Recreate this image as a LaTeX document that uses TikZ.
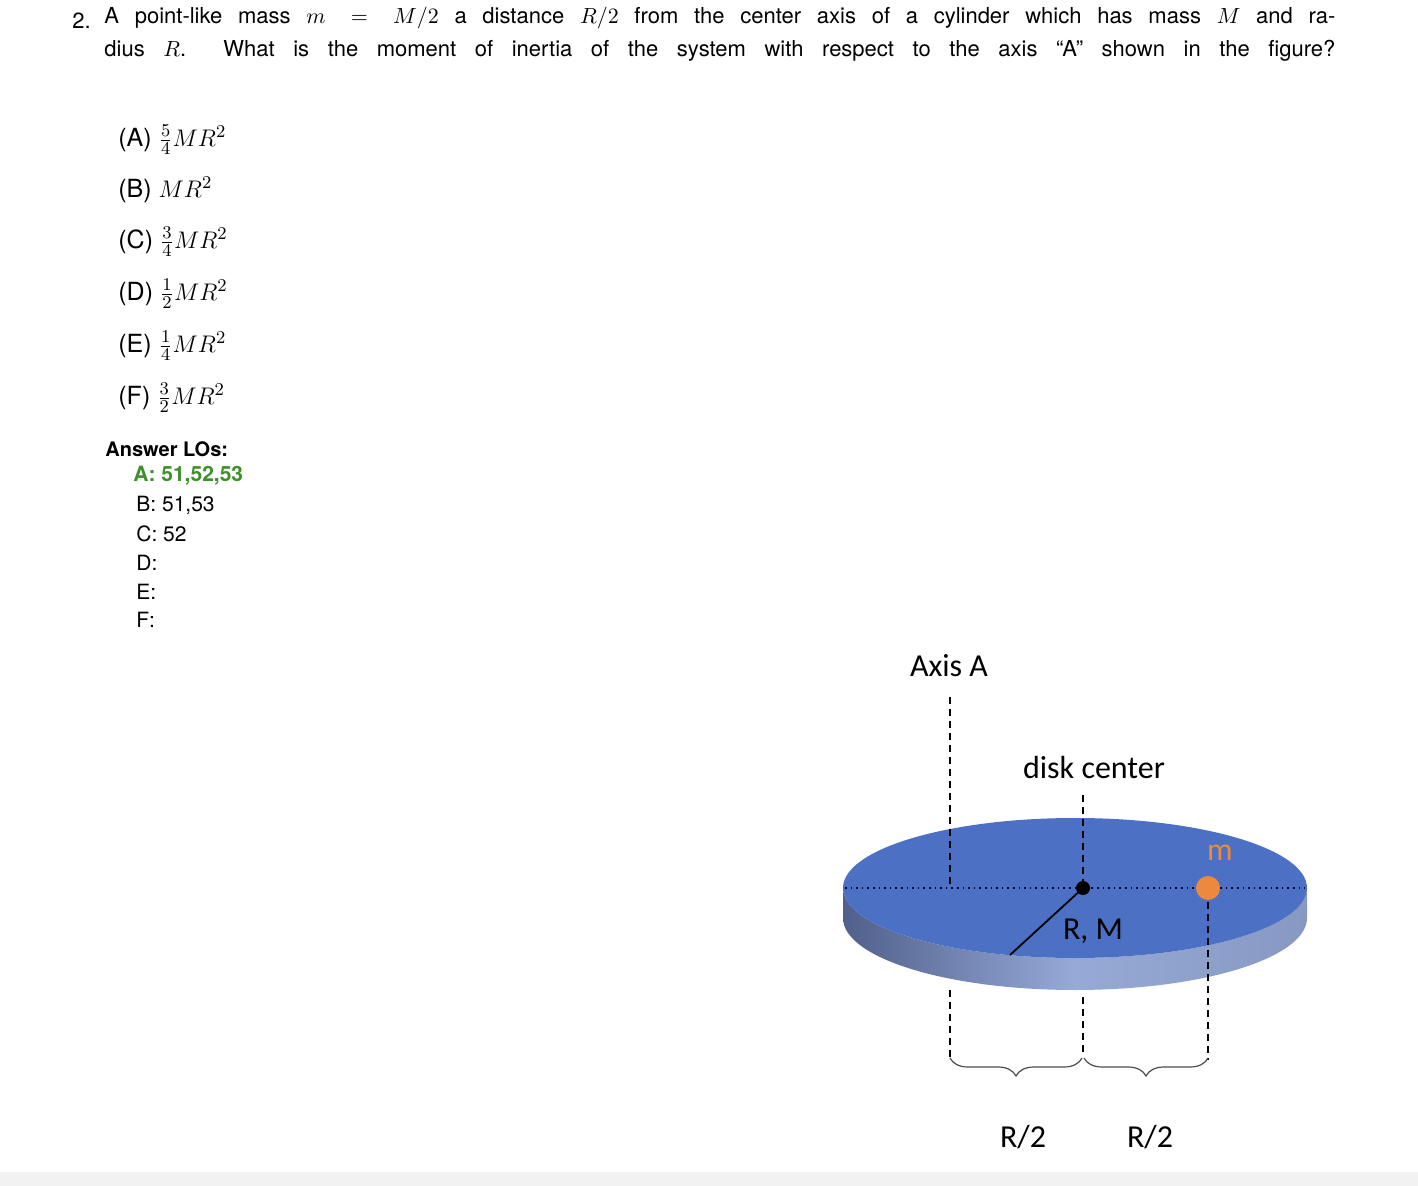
\documentclass[tikz,border=0pt]{standalone}
\usepackage{fontspec}
\setmainfont{TeX Gyre Heros}
\newfontfamily\figfont{Carlito}
\usetikzlibrary{decorations.pathreplacing,shadings}
\definecolor{disk}{RGB}{75,112,196}
\definecolor{sidea}{RGB}{80,95,140}
\definecolor{sideb}{RGB}{150,170,215}
\definecolor{orng}{RGB}{237,137,60}
\definecolor{grn}{RGB}{60,145,40}
\tikzset{
  txt/.style={anchor=west,inner sep=0pt,font=\fontsize{11}{13}\selectfont},
  opt/.style={anchor=west,inner sep=0pt,font=\fontsize{12.5}{14}\selectfont},
  fig/.style={inner sep=0pt,font=\fontsize{16}{18}\selectfont\figfont},
  ax/.style={dash pattern=on 3.5pt off 2.5pt,line width=0.8pt},
}
\begin{document}
\begin{tikzpicture}[x=0.5pt,y=-0.5pt]
\useasboundingbox (0,0) rectangle (1418,1186);
\fill[white] (0,0) rectangle (1418,1186);
% question
\node[txt,anchor=base west] (num) at (72,29) {2.};
\node[txt,anchor=north west] (q) at (104,7) {\parbox{615.5pt}{\fontsize{11}{16.25}\selectfont\parfillskip=0pt
A point-like mass $m = M/2$ a distance $R/2$ from the center axis of a cylinder which has mass $M$ and ra-\linebreak dius $R$.\ \ What is the moment of inertia of the system with respect to the axis ``A'' shown in the figure?}};
% options
\node[opt] (oa) at (118,140) {(A) $\frac54 MR^2$};
\node[opt] (ob) at (118,190) {(B) $MR^2$};
\node[opt] (oc) at (118,242) {(C) $\frac34 MR^2$};
\node[opt] (od) at (118,294) {(D) $\frac12 MR^2$};
\node[opt] (oe) at (118,346) {(E) $\frac14 MR^2$};
\node[opt] (of) at (118,398) {(F) $\frac32 MR^2$};
\node[txt,font=\fontsize{10}{12}\selectfont\bfseries] (lo) at (105,449) {Answer LOs:};
\node[txt,font=\fontsize{10.5}{12}\selectfont\bfseries,text=grn] (la) at (133,476) {A:\ 51,52,53};
\node[txt,font=\fontsize{10.5}{12}\selectfont] (lb) at (136,505) {B:\ 51,53};
\node[txt,font=\fontsize{10.5}{12}\selectfont] (lc) at (136,534) {C:\ 52};
\node[txt,font=\fontsize{10.5}{12}\selectfont] (ld) at (136,563) {D:};
\node[txt,font=\fontsize{10.5}{12}\selectfont] (le) at (136,592) {E:};
\node[txt,font=\fontsize{10.5}{12}\selectfont] (lf) at (136,620) {F:};
% figure
\coordinate (c) at (1075,888);
\coordinate (cc) at (1083,888);
\shade[left color=sidea,right color=sideb!90!black,middle color=sideb]
  (843,888) -- (843,918) arc[start angle=180,end angle=0,x radius=232,y radius=72] -- (1307,888) arc[start angle=0,end angle=180,x radius=232,y radius=70] -- cycle;
\fill[disk] (c) ellipse[x radius=232,y radius=70];
\draw[dotted,line width=0.8pt,black!80!blue] (845,888) -- (1305,888);
\node[fig] (axl) at (949,666) {Axis A};
\draw[ax] (950,697) -- (950,888);
\draw[ax] (950,990) -- (950,1060);
\node[fig] (dc) at (1094,768) {disk center};
\draw[ax] (1083,795) -- (cc);
\draw[ax] (1083,997) -- (1083,1052);
\draw[line width=0.9pt] (cc) -- (1010,955);
\fill (cc) circle[radius=7];
\node[fig] (rm) at (1093,931) {R, M};
\fill[orng] (1208,888) circle[radius=12];
\node[fig,text=orng] (m) at (1220,853) {m};
\draw[ax] (1208,902) -- (1208,1060);
\draw[decorate,decoration={brace,amplitude=9pt,mirror},line width=0.6pt,black!70] (950,1058) -- (1082,1058);
\draw[decorate,decoration={brace,amplitude=9pt,mirror},line width=0.6pt,black!70] (1084,1058) -- (1208,1058);
\node[fig] (r1) at (1023,1137) {R/2};
\node[fig] (r2) at (1150,1137) {R/2};
\fill[black!5] (0,1172) rectangle (1418,1186);
\end{tikzpicture}
\end{document}
